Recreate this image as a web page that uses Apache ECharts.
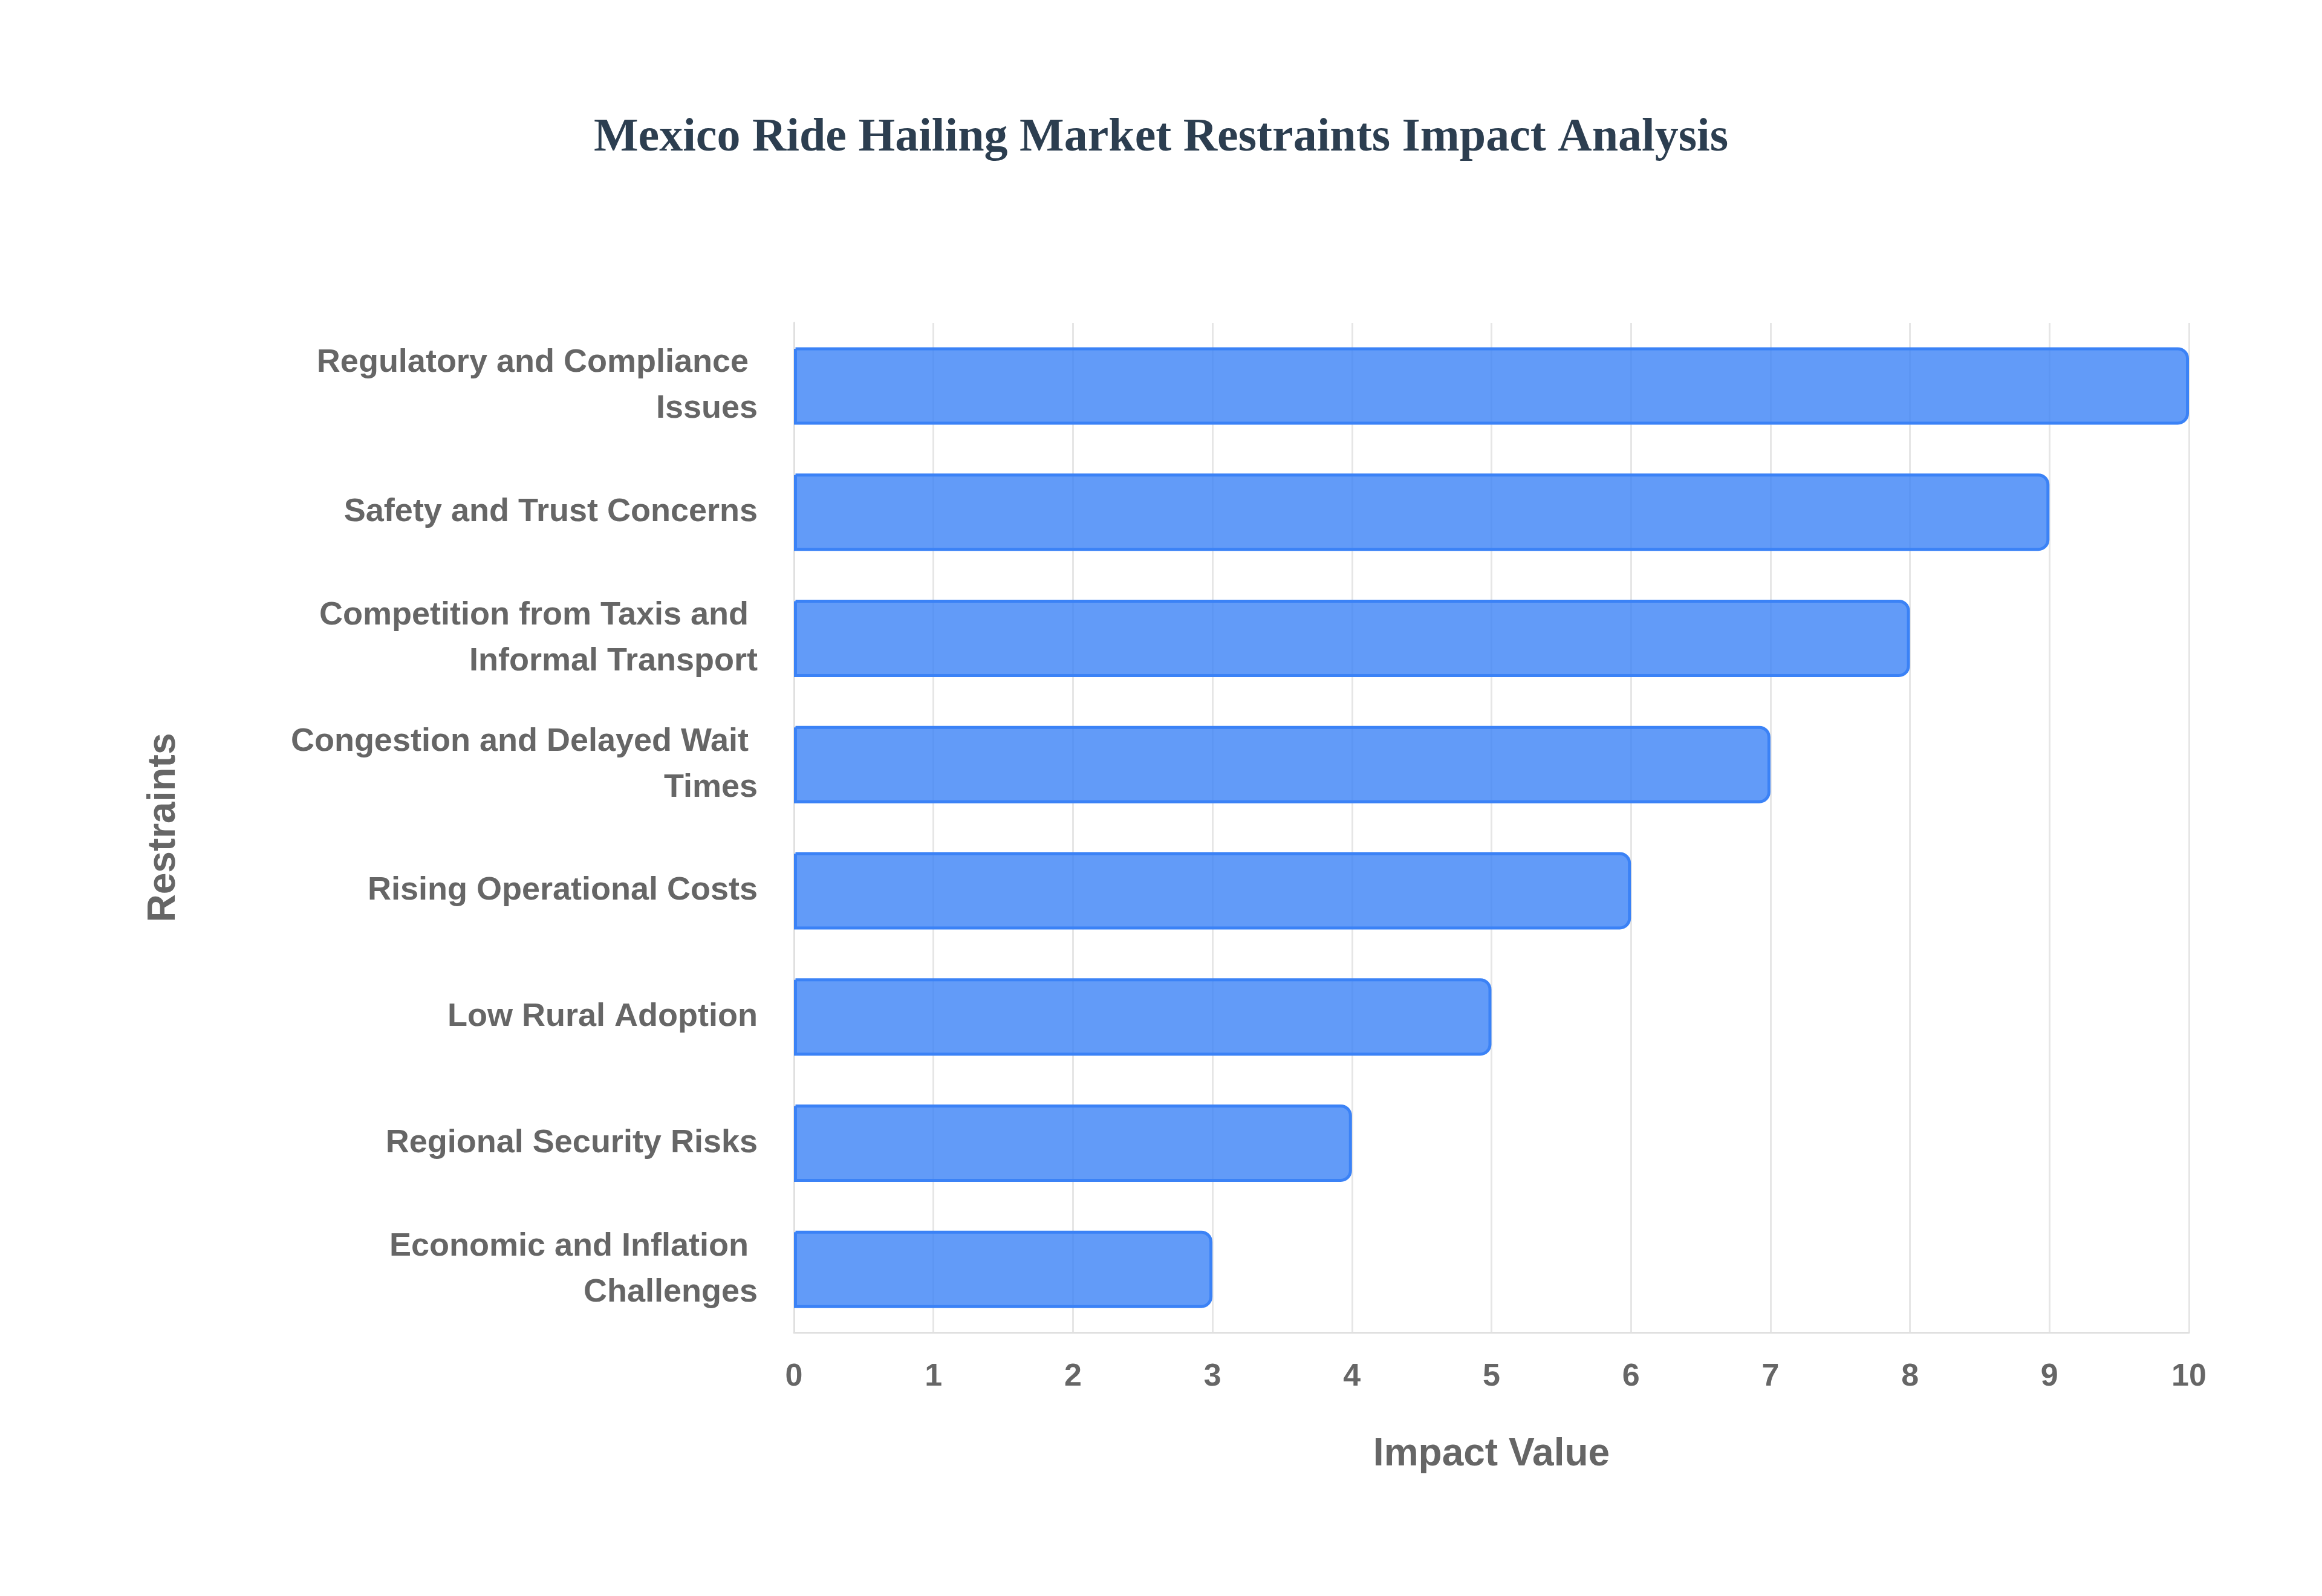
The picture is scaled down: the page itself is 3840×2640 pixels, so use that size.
<!DOCTYPE html>
<html><head><meta charset="utf-8">
<script src="https://cdn.jsdelivr.net/npm/echarts@6/dist/echarts.min.js"></script>
<style>html,body{margin:0;padding:0;background:#fff}#c{width:3840px;height:2640px}</style>
</head><body><div id="c"></div>
<script>
const categories = ["Regulatory and Compliance Issues","Safety and Trust Concerns","Competition from Taxis and Informal Transport","Congestion and Delayed Wait Times","Rising Operational Costs","Low Rural Adoption","Regional Security Risks","Economic and Inflation Challenges"];
const impactValues = [10,9,8,7,6,5,4,3];
const chart = echarts.init(document.getElementById('c'));
chart.setOption({
  backgroundColor:'#fff',
  title:{text:'Mexico Ride Hailing Market Restraints Impact Analysis',left:'center',top:185,
    textStyle:{fontFamily:'Liberation Serif',fontWeight:'bold',fontSize:78,color:'#2c3e50'}},
  grid:{left:1313,right:220,top:534,bottom:436,containLabel:false},
  xAxis:{type:'value',min:0,max:10,interval:1,name:'Impact Value',nameLocation:'middle',nameGap:170,
    nameTextStyle:{fontFamily:'Liberation Sans',fontWeight:'bold',fontSize:64,color:'#666'},
    axisLabel:{fontFamily:'Liberation Sans',fontWeight:'bold',fontSize:52,color:'#666',margin:48},
    axisLine:{show:true,lineStyle:{color:'#e0e0e0',width:3}},axisTick:{show:false},
    splitLine:{lineStyle:{color:'#e6e6e6',width:3}}},
  yAxis:{type:'category',data:categories,inverse:true,name:'Restraints',nameLocation:'middle',nameGap:1010,nameRotate:90,
    nameTextStyle:{fontFamily:'Liberation Sans',fontWeight:'bold',fontSize:64,color:'#666'},
    axisLabel:{fontFamily:'Liberation Sans',fontWeight:'bold',fontSize:54,color:'#666',margin:60,width:860,overflow:'break',lineHeight:76,align:'right'},
    axisLine:{show:true,lineStyle:{color:'#e0e0e0',width:3}},axisTick:{show:false},splitLine:{show:false}},
  series:[{type:'bar',data:impactValues,barWidth:128,
    itemStyle:{color:'rgba(59,130,246,0.8)',borderColor:'#3b82f6',borderWidth:5,borderRadius:[0,16,16,0]}}]
});
</script></body></html>
